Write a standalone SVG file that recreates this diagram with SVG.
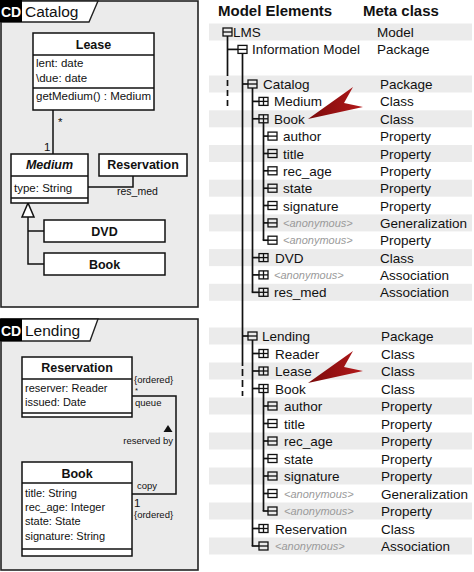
<svg xmlns="http://www.w3.org/2000/svg" xmlns:xlink="http://www.w3.org/1999/xlink" width="474" height="572" viewBox="0 0 474 572">
<defs>
<style>
text{font-family:"Liberation Sans","Noto Sans",Arial,sans-serif;fill:#111}
.frame{fill:#ebebeb;stroke:#222;stroke-width:1.6}
.tab{fill:#fff;stroke:#222;stroke-width:1.4}
.cd{font-size:14px;font-weight:bold;fill:#fff}
.fname{font-size:15.5px}
.box{fill:#fff;stroke:#111;stroke-width:1.5}
.sep{stroke:#111;stroke-width:1.5}
.ttl{font-size:12.5px;font-weight:bold;text-anchor:middle}
.attr{font-size:11.5px}
.attr2{font-size:11px}
.lab{font-size:9.5px}
.conn{fill:none;stroke:#111;stroke-width:1.5}
.band{fill:#ebebeb}
.hdr{font-size:15px;font-weight:bold}
.it{font-size:13.5px}
.anon{font-size:11px;font-style:italic;fill:#9a9a9a}
.tl{fill:none;stroke:#111;stroke-width:1.7}
.ic{fill:none;stroke:#111;stroke-width:1.3}
</style>
<g id="im"><rect class="ic" x="0.5" y="-4" width="9" height="8"/><line class="ic" x1="0.5" y1="0" x2="9.5" y2="0"/></g>
<g id="ip"><rect class="ic" x="0.5" y="-4" width="9" height="8"/><line class="ic" x1="0.5" y1="0" x2="9.5" y2="0"/><line class="ic" x1="5" y1="-4" x2="5" y2="4"/></g>
<linearGradient id="red" x1="0" y1="0" x2="1" y2="0"><stop offset="0" stop-color="#7a0a0a"/><stop offset="1" stop-color="#b3191b"/></linearGradient>
</defs>

<!-- ===== Catalog frame ===== -->
<g id="frame-catalog">
<rect class="frame" x="1" y="1" width="197" height="306"/>
<polygon class="tab" points="1,1 98,1 89,22 1,22"/>
<rect x="0" y="0" width="22" height="22" fill="#000"/>
<text class="cd" x="11" y="17" text-anchor="middle">CD</text>
<text class="fname" x="25" y="17">Catalog</text>
</g>

<g id="connectors-catalog">
<line class="conn" x1="53" y1="110" x2="53" y2="154"/>
<text class="attr" x="58" y="126">*</text>
<text class="attr" x="44" y="151">1</text>
<polyline class="conn" points="133,176 133,187 88,187"/>
<text style="font-size:10.5px" x="117" y="195">res_med</text>
<polyline class="conn" points="28,217 28,264 44,264"/>
<line class="conn" x1="28" y1="231" x2="44" y2="231"/>
<polygon points="28,203 22,217 34,217" fill="#fff" stroke="#111" stroke-width="1.5"/>
</g>

<g id="c-lease">
<rect class="box" x="33" y="33" width="121" height="77"/>
<line class="sep" x1="33" y1="55" x2="154" y2="55"/>
<line class="sep" x1="33" y1="88" x2="154" y2="88"/>
<text class="ttl" x="93.5" y="49">Lease</text>
<text class="attr" x="36" y="67">lent: date</text>
<text class="attr" x="36" y="82">\due: date</text>
<text class="attr" x="36" y="100">getMedium() : Medium</text>
</g>
<g id="c-medium">
<rect class="box" x="11" y="154" width="77" height="49"/>
<line class="sep" x1="11" y1="176" x2="88" y2="176"/>
<line class="sep" x1="11" y1="198" x2="88" y2="198"/>
<text class="ttl" x="49.5" y="169" font-style="italic">Medium</text>
<text class="attr" x="14" y="192">type: String</text>
</g>
<g id="c-reservation">
<rect class="box" x="99" y="154" width="88" height="22"/>
<text class="ttl" x="143" y="169">Reservation</text>
</g>
<g id="c-dvd">
<rect class="box" x="44" y="220" width="121" height="22"/>
<text class="ttl" x="104.5" y="236">DVD</text>
</g>
<g id="c-book">
<rect class="box" x="44" y="253" width="121" height="22"/>
<text class="ttl" x="104.5" y="269">Book</text>
</g>

<!-- ===== Lending frame ===== -->
<g id="frame-lending">
<rect class="frame" x="1" y="319" width="197" height="251"/>
<polygon class="tab" points="1,319 98,319 90,341 1,341"/>
<rect x="0" y="319" width="22" height="22" fill="#000"/>
<text class="cd" x="11" y="336" text-anchor="middle">CD</text>
<text class="fname" x="25" y="336">Lending</text>
</g>

<g id="connectors-lending">
<polyline class="conn" points="132,396 176,396 176,494 132,494"/>
<text class="lab" x="134" y="383">{ordered}</text>
<text style="font-size:7.5px" x="135" y="392.5">*</text>
<text class="lab" x="135" y="406">queue</text>
<polygon points="168,425 163.5,432 172.5,432" fill="#111"/>
<text class="lab" x="173" y="444" text-anchor="end">reserved by</text>
<text class="lab" x="137" y="489">copy</text>
<text class="attr" x="134" y="507">1</text>
<text class="lab" x="134" y="518">{ordered}</text>
</g>

<g id="l-reservation">
<rect class="box" x="22" y="357" width="110" height="60"/>
<line class="sep" x1="22" y1="379" x2="132" y2="379"/>
<line class="sep" x1="22" y1="413" x2="132" y2="413"/>
<text class="ttl" x="77" y="372">Reservation</text>
<text class="attr2" x="25" y="392">reserver: Reader</text>
<text class="attr2" x="25" y="406">issued: Date</text>
</g>
<g id="l-book">
<rect class="box" x="22" y="462" width="110" height="94"/>
<line class="sep" x1="22" y1="483" x2="132" y2="483"/>
<line class="sep" x1="22" y1="549" x2="132" y2="549"/>
<text class="ttl" x="77" y="478">Book</text>
<text class="attr2" x="25" y="497">title: String</text>
<text class="attr2" x="25" y="511">rec_age: Integer</text>
<text class="attr2" x="25" y="525">state: State</text>
<text class="attr2" x="25" y="540">signature: String</text>
</g>

<!-- ===== Model tree ===== -->
<g id="bands">
<rect class="band" x="209" y="23.5" width="263" height="17"/>
<rect class="band" x="209" y="75.5" width="263" height="17"/>
<rect class="band" x="209" y="110.3" width="263" height="17"/>
<rect class="band" x="209" y="145" width="263" height="17"/>
<rect class="band" x="209" y="179.7" width="263" height="17"/>
<rect class="band" x="209" y="214.4" width="263" height="17"/>
<rect class="band" x="209" y="249.1" width="263" height="17"/>
<rect class="band" x="209" y="283.8" width="263" height="17"/>
<rect class="band" x="209" y="327.5" width="263" height="17"/>
<rect class="band" x="209" y="362.5" width="263" height="17"/>
<rect class="band" x="209" y="397.5" width="263" height="17"/>
<rect class="band" x="209" y="432.5" width="263" height="17"/>
<rect class="band" x="209" y="467.5" width="263" height="17"/>
<rect class="band" x="209" y="502.5" width="263" height="17"/>
<rect class="band" x="209" y="537.5" width="263" height="17"/>
</g>

<g id="headers">
<text class="hdr" x="218" y="16">Model Elements</text>
<text class="hdr" x="363" y="16">Meta class</text>
</g>

<g id="tree-lines">
<line class="tl" x1="227.5" y1="36" x2="227.5" y2="70"/>
<line class="tl" x1="227.5" y1="70" x2="227.5" y2="110" stroke-dasharray="6,4"/>
<line class="tl" x1="227.5" y1="49.4" x2="238" y2="49.4"/>
<line class="tl" x1="242.5" y1="53.4" x2="242.5" y2="366"/>
<line class="tl" x1="242.5" y1="369" x2="242.5" y2="396" stroke-dasharray="7,4"/>
<line class="tl" x1="242.5" y1="84" x2="248" y2="84"/>
<line class="tl" x1="252.5" y1="88" x2="252.5" y2="292.3"/>
<line class="tl" x1="252.5" y1="101.4" x2="259" y2="101.4"/>
<line class="tl" x1="252.5" y1="118.8" x2="259" y2="118.8"/>
<line class="tl" x1="252.5" y1="257.6" x2="259" y2="257.6"/>
<line class="tl" x1="252.5" y1="274.9" x2="259" y2="274.9"/>
<line class="tl" x1="251.7" y1="292.3" x2="259" y2="292.3"/>
<line class="tl" x1="263.5" y1="122.8" x2="263.5" y2="240.2"/>
<line class="tl" x1="263.5" y1="136.1" x2="268" y2="136.1"/>
<line class="tl" x1="263.5" y1="153.5" x2="268" y2="153.5"/>
<line class="tl" x1="263.5" y1="170.8" x2="268" y2="170.8"/>
<line class="tl" x1="263.5" y1="188.2" x2="268" y2="188.2"/>
<line class="tl" x1="263.5" y1="205.5" x2="268" y2="205.5"/>
<line class="tl" x1="263.5" y1="222.9" x2="268" y2="222.9"/>
<line class="tl" x1="262.7" y1="240.2" x2="268" y2="240.2"/>
<line class="tl" x1="242.5" y1="336" x2="248" y2="336"/>
<line class="tl" x1="252.5" y1="340" x2="252.5" y2="546"/>
<line class="tl" x1="252.5" y1="353.5" x2="259" y2="353.5"/>
<line class="tl" x1="252.5" y1="371" x2="259" y2="371"/>
<line class="tl" x1="252.5" y1="388.5" x2="259" y2="388.5"/>
<line class="tl" x1="252.5" y1="528.5" x2="259" y2="528.5"/>
<line class="tl" x1="251.7" y1="546" x2="259" y2="546"/>
<line class="tl" x1="263.5" y1="392.5" x2="263.5" y2="511"/>
<line class="tl" x1="263.5" y1="406" x2="268" y2="406"/>
<line class="tl" x1="263.5" y1="423.5" x2="268" y2="423.5"/>
<line class="tl" x1="263.5" y1="441" x2="268" y2="441"/>
<line class="tl" x1="263.5" y1="458.5" x2="268" y2="458.5"/>
<line class="tl" x1="263.5" y1="476" x2="268" y2="476"/>
<line class="tl" x1="263.5" y1="493.5" x2="268" y2="493.5"/>
<line class="tl" x1="262.7" y1="511" x2="268" y2="511"/>
</g>

<g id="t-lms"><use xlink:href="#im" x="222.5" y="32"/><text class="it" x="233" y="37">LMS</text><text class="it" x="377" y="37">Model</text></g>
<g id="t-info"><use xlink:href="#im" x="237.5" y="49.4"/><text class="it" x="252" y="54.4">Information Model</text><text class="it" x="377" y="54.4">Package</text></g>
<g id="t-catalog"><use xlink:href="#im" x="247.5" y="84"/><text class="it" x="263" y="89">Catalog</text><text class="it" x="380" y="89">Package</text></g>
<g id="t-medium"><use xlink:href="#ip" x="258.5" y="101.4"/><text class="it" x="274" y="106.4">Medium</text><text class="it" x="380" y="106.4">Class</text></g>
<g id="t-book"><use xlink:href="#ip" x="258.5" y="118.8"/><text class="it" x="274" y="123.8">Book</text><text class="it" x="380" y="123.8">Class</text></g>
<g id="t-author"><use xlink:href="#im" x="267.5" y="136.1"/><text class="it" x="283" y="141.1">author</text><text class="it" x="380" y="141.1">Property</text></g>
<g id="t-title"><use xlink:href="#im" x="267.5" y="153.5"/><text class="it" x="283" y="158.5">title</text><text class="it" x="380" y="158.5">Property</text></g>
<g id="t-recage"><use xlink:href="#im" x="267.5" y="170.8"/><text class="it" x="283" y="175.8">rec_age</text><text class="it" x="380" y="175.8">Property</text></g>
<g id="t-state"><use xlink:href="#im" x="267.5" y="188.2"/><text class="it" x="283" y="193.2">state</text><text class="it" x="380" y="193.2">Property</text></g>
<g id="t-signature"><use xlink:href="#im" x="267.5" y="205.5"/><text class="it" x="283" y="210.5">signature</text><text class="it" x="380" y="210.5">Property</text></g>
<g id="t-anon1"><use xlink:href="#im" x="267.5" y="222.9"/><text class="anon" x="283" y="226.9">&lt;anonymous&gt;</text><text class="it" x="380" y="227.9">Generalization</text></g>
<g id="t-anon2"><use xlink:href="#im" x="267.5" y="240.2"/><text class="anon" x="283" y="244.2">&lt;anonymous&gt;</text><text class="it" x="380" y="245.2">Property</text></g>
<g id="t-dvd"><use xlink:href="#ip" x="258.5" y="257.6"/><text class="it" x="275" y="262.6">DVD</text><text class="it" x="380" y="262.6">Class</text></g>
<g id="t-anon3"><use xlink:href="#ip" x="258.5" y="274.9"/><text class="anon" x="274" y="278.9">&lt;anonymous&gt;</text><text class="it" x="380" y="279.9">Association</text></g>
<g id="t-resmed"><use xlink:href="#ip" x="258.5" y="292.3"/><text class="it" x="274" y="297.3">res_med</text><text class="it" x="380" y="297.3">Association</text></g>

<g id="t-lending"><use xlink:href="#im" x="247.5" y="336"/><text class="it" x="262" y="341">Lending</text><text class="it" x="381" y="341">Package</text></g>
<g id="t-reader"><use xlink:href="#ip" x="258.5" y="353.5"/><text class="it" x="275" y="358.5">Reader</text><text class="it" x="381" y="358.5">Class</text></g>
<g id="t-lease"><use xlink:href="#ip" x="258.5" y="371"/><text class="it" x="275" y="376">Lease</text><text class="it" x="381" y="376">Class</text></g>
<g id="t-book2"><use xlink:href="#ip" x="258.5" y="388.5"/><text class="it" x="275" y="393.5">Book</text><text class="it" x="381" y="393.5">Class</text></g>
<g id="t-author2"><use xlink:href="#im" x="267.5" y="406"/><text class="it" x="284" y="411">author</text><text class="it" x="381" y="411">Property</text></g>
<g id="t-title2"><use xlink:href="#im" x="267.5" y="423.5"/><text class="it" x="284" y="428.5">title</text><text class="it" x="381" y="428.5">Property</text></g>
<g id="t-recage2"><use xlink:href="#im" x="267.5" y="441"/><text class="it" x="284" y="446">rec_age</text><text class="it" x="381" y="446">Property</text></g>
<g id="t-state2"><use xlink:href="#im" x="267.5" y="458.5"/><text class="it" x="284" y="463.5">state</text><text class="it" x="381" y="463.5">Property</text></g>
<g id="t-signature2"><use xlink:href="#im" x="267.5" y="476"/><text class="it" x="284" y="481">signature</text><text class="it" x="381" y="481">Property</text></g>
<g id="t-anon4"><use xlink:href="#im" x="267.5" y="493.5"/><text class="anon" x="284" y="497.5">&lt;anonymous&gt;</text><text class="it" x="381" y="498.5">Generalization</text></g>
<g id="t-anon5"><use xlink:href="#im" x="267.5" y="511"/><text class="anon" x="284" y="515">&lt;anonymous&gt;</text><text class="it" x="381" y="516">Property</text></g>
<g id="t-reservation"><use xlink:href="#ip" x="258.5" y="528.5"/><text class="it" x="275" y="533.5">Reservation</text><text class="it" x="381" y="533.5">Class</text></g>
<g id="t-anon6"><use xlink:href="#im" x="258.5" y="546"/><text class="anon" x="275" y="550">&lt;anonymous&gt;</text><text class="it" x="381" y="551">Association</text></g>

<g id="pointers">
<polygon points="308,119 353,87 344,103 363,107" fill="url(#red)"/>
<polygon points="308,383 353,351 344,367 363,371" fill="url(#red)"/>
</g>
</svg>
